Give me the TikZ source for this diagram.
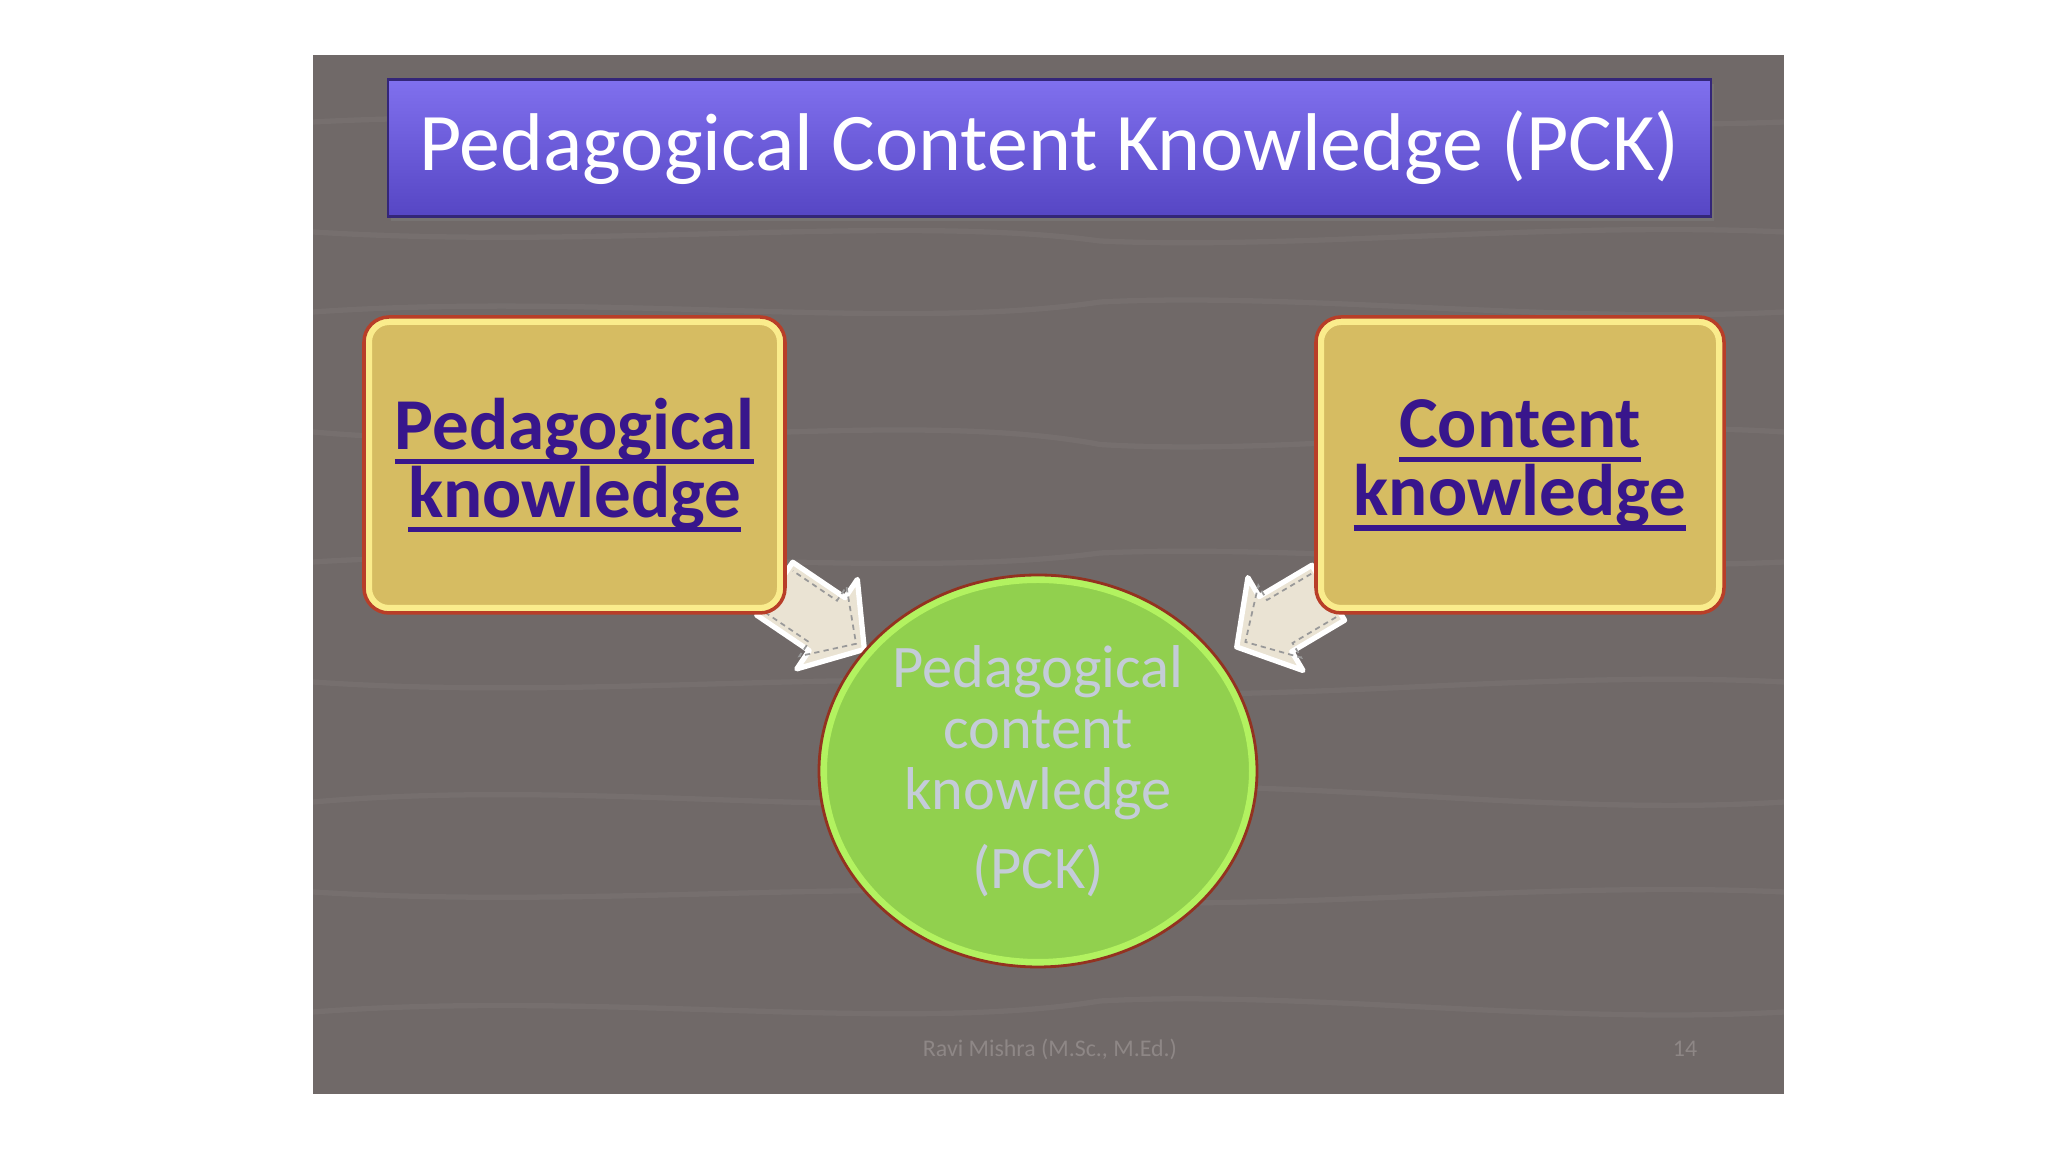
\documentclass[tikz,border=0pt]{standalone}
\usepackage{fontspec}
\setmainfont{Carlito}
\usetikzlibrary{shapes.geometric, arrows.meta, positioning, calc, backgrounds, shadows}
\definecolor{slidecolor}{RGB}{112, 105, 104}
\definecolor{titletop}{RGB}{128, 112, 238}
\definecolor{titlebottom}{RGB}{86, 70, 196}
\definecolor{titleborder}{RGB}{52, 38, 120}
\definecolor{goldcolor}{RGB}{214, 188, 98}
\definecolor{goldglow}{RGB}{250, 236, 140}
\definecolor{borderred}{RGB}{184, 62, 40}
\definecolor{knowtext}{RGB}{56, 22, 140}
\definecolor{pckgreen}{RGB}{145, 208, 78}
\definecolor{pckglow}{RGB}{178, 242, 96}
\definecolor{pcktext}{RGB}{196, 204, 216}
\definecolor{arrowfill}{RGB}{234, 227, 211}
\definecolor{footcolor}{RGB}{142, 135, 134}

\pgfdeclarelayer{arrows}
\pgfsetlayers{background,arrows,main}

% underlined word, rule crossing the descenders
\newcommand{\uln}[1]{\setbox0\hbox{#1}\rlap{\rule[-0.2em]{\wd0}{0.07em}}\box0}

% block arrow from #1 to #2
\newcommand{\fatarrow}[2]{%
  \path let \p1=($(#2)-(#1)$) in \pgfextra{%
    \pgfmathparse{atan2(\y1,\x1)}\xdef\arang{\pgfmathresult}%
    \pgfmathparse{veclen(\x1,\y1)}\xdef\arlen{\pgfmathresult}};
  \begin{scope}[shift={(#1)}, rotate=\arang]
    \draw[fatarr] (0cm,-0.32cm) -- ({\arlen pt-0.45cm},-0.32cm) -- ({\arlen pt-0.45cm},-0.54cm)
      -- ({\arlen pt},0cm) -- ({\arlen pt-0.45cm},0.54cm) -- ({\arlen pt-0.45cm},0.32cm)
      -- (0cm,0.32cm) -- cycle;
    \draw[fatarrdash] (0.05cm,-0.25cm) -- ({\arlen pt-0.5cm},-0.25cm) -- ({\arlen pt-0.5cm},-0.42cm)
      -- ({\arlen pt-0.1cm},0cm) -- ({\arlen pt-0.5cm},0.42cm) -- ({\arlen pt-0.5cm},0.25cm)
      -- (0.05cm,0.25cm);
  \end{scope}}

\begin{document}
\begin{tikzpicture}[
    titlebox/.style={rectangle, draw=titleborder, line width=0.6pt, top color=titletop, bottom color=titlebottom,
      minimum width=13.23cm, minimum height=1.37cm, text=white, font=\fontsize{23.3}{27}\selectfont,
      drop shadow={shadow xshift=0.03cm, shadow yshift=-0.05cm, opacity=0.45}},
    knowbox/.style={rectangle, rounded corners=0.25cm, fill=goldcolor, draw=borderred, line width=1pt,
      minimum width=4.21cm, minimum height=2.96cm, align=center, text=knowtext,
      font=\fontsize{20.8}{19.5}\selectfont\bfseries,
      path picture={\draw[goldglow, line width=0.16cm, rounded corners=0.25cm]
        (path picture bounding box.south west) rectangle (path picture bounding box.north east);}},
    pckcircle/.style={ellipse, fill=pckgreen, draw=borderred!80!black, line width=0.8pt,
      minimum width=4.38cm, minimum height=3.92cm, inner sep=0pt, align=center, text=pcktext,
      font=\fontsize{17.2}{17.4}\selectfont,
      path picture={\draw[pckglow, line width=0.16cm] let \p1=(path picture bounding box.north east),
        \p2=(path picture bounding box.center) in (\p2) ellipse [x radius=\x1-\x2, y radius=\y1-\y2];}},
    fatarr/.style={fill=arrowfill, draw=white, line width=1.5pt, line join=round},
    fatarrdash/.style={draw=gray!80, line width=0.5pt, dash pattern=on 1.5pt off 1.2pt},
    grain/.style={white, opacity=0.045, line width=1.5pt},
    footer/.style={text=footcolor, font=\fontsize{6.8}{8}\selectfont}
]
\useasboundingbox (0,0) rectangle (20.48,11.52);

% Slide background
\begin{scope}[on background layer]
\node[fill=slidecolor, minimum width=14.71cm, minimum height=10.39cm, inner sep=0pt] (slide) at (10.485, 5.775) {};
\foreach \yy/\dd in {1.4/0.22, 2.6/-0.18, 3.5/0.25, 4.7/-0.2, 5.9/0.18, 7.2/-0.25, 8.4/0.2, 9.2/-0.18, 10.3/0.15}
  \draw[grain] (3.13,\yy) .. controls (6,\yy+\dd) and (9,\yy-\dd) .. (11,\yy+0.5*\dd)
    .. controls (13,\yy+\dd) and (15.5,\yy-0.6*\dd) .. (17.84,\yy);
\end{scope}

% Title
\node[titlebox] (title) at (10.495, 10.04) {Pedagogical Content Knowledge (PCK)};

% Knowledge boxes
\node[knowbox] (pk) at (5.745, 6.87) {\uln{Pedagogical}\\\uln{knowledge}};
\node[knowbox, minimum width=4.08cm] (ck) at (15.20, 6.87) {\uln{Content}\\\uln{knowledge}};

% PCK circle
\node[pckcircle] (pck) at (10.38, 3.81) {Pedagogical\\content\\knowledge\\[5pt](PCK)};

% Arrows into the circle
\begin{pgfonlayer}{arrows}
\fatarrow{$(pk.south east)+(-0.12,0.26)$}{pck.145}
\fatarrow{$(ck.south west)+(0.14,0.22)$}{$(pck.32)+(0.18,0.11)$}
\end{pgfonlayer}

% Footer
\node[footer] (author) at (10.50, 1.03) {Ravi Mishra (M.Sc., M.Ed.)};
\node[footer] (slideno) at (16.85, 1.03) {14};

\end{tikzpicture}
\end{document}
